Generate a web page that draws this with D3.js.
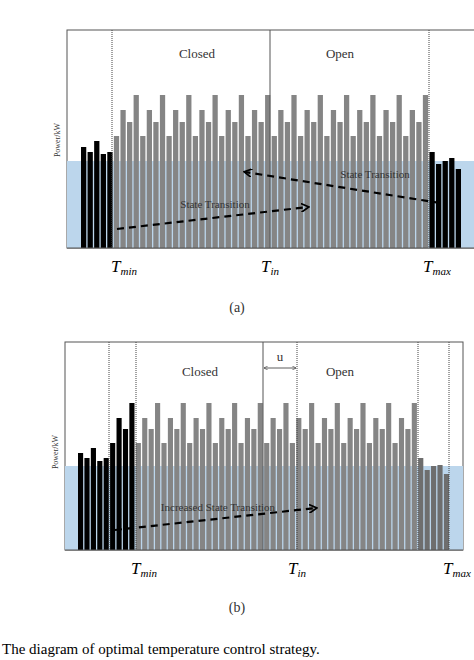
<!DOCTYPE html><html><head><meta charset="utf-8">
<script src="https://cdn.jsdelivr.net/npm/d3@7"></script>
<style>body{margin:0;background:#fff}text{font-family:"Liberation Serif","DejaVu Serif",serif}</style></head><body>
<svg id="c" width="474" height="660"></svg>
<script>
// Panel (a) data
const aLeft=[101,96,107,94,96];
const aPattern=[112,138,126,153];
const aPeriods=12;
const aRight=[96,84,87,90,79];
const aBlue=87;
// Panel (b) data
const bLeft=[97,92,102,89,92,107,132,121,147];
const bPattern=[107,132,121,147];
const bPeriods=11;
const bRight=[92,80,84,85,76];
const bBlue=84;

const svg=d3.select("#c");
const defs=svg.append("defs");
defs.append("marker").attr("id","ahR").attr("viewBox","0 0 10 10").attr("refX",8).attr("refY",5)
 .attr("markerWidth",4).attr("markerHeight",4).attr("orient","auto")
 .append("path").attr("d","M0,0 L9,5 L0,10").attr("fill","none").attr("stroke","#000").attr("stroke-width",2);
defs.append("marker").attr("id","ahS").attr("viewBox","0 0 10 10").attr("refX",9).attr("refY",5)
 .attr("markerWidth",6).attr("markerHeight",6).attr("orient","auto-start-reverse")
 .append("path").attr("d","M0,0 L9,5 L0,10").attr("fill","none").attr("stroke","#333").attr("stroke-width",1.2);

function panel(o){
  const g=svg.append("g");
  const gray=d3.range(o.periods).flatMap(()=>o.pattern);
  const bars=[...o.left.map(v=>({v,c:"#000"})),...gray.map(v=>({v,c:"#858585"})),...o.right.map(v=>({v,c:o.rc}))];
  const x=d3.scaleBand().domain(d3.range(bars.length)).range([o.x0,o.x1]).paddingInner(0.2);
  const y=d3.scaleLinear().domain([0,220]).range([o.base,o.base-220]);
  g.append("rect").attr("x",o.bx0).attr("y",o.top).attr("width",o.bx1-o.bx0).attr("height",o.base-o.top).attr("fill","#fff").attr("stroke","#555");
  g.append("rect").attr("x",o.bx0).attr("y",y(o.blue)).attr("width",o.bx1-o.bx0).attr("height",o.base-y(o.blue)).attr("fill","#bcd6ec");
  g.selectAll(".b").data(bars).join("rect").attr("x",(d,i)=>x(i)).attr("width",x.bandwidth())
   .attr("y",d=>y(d.v)).attr("height",d=>o.base-y(d.v)).attr("fill",d=>d.c);
  o.dotted.forEach(xx=>g.append("line").attr("x1",xx).attr("x2",xx).attr("y1",o.top).attr("y2",o.base).attr("stroke","#444").attr("stroke-dasharray","1,1"));
  o.solid.forEach(xx=>g.append("line").attr("x1",xx).attr("x2",xx).attr("y1",o.top).attr("y2",o.base).attr("stroke","#555"));
  g.append("line").attr("x1",o.bx0).attr("x2",o.bx1).attr("y1",o.base).attr("y2",o.base).attr("stroke","#555");
  g.append("text").attr("transform",`translate(${o.bx0-7},${o.top+110}) rotate(-90)`).attr("text-anchor","middle").attr("font-size",8).attr("fill","#333").text("Power/kW");
  o.texts.forEach(t=>g.append("text").attr("x",t[0]).attr("y",t[1]).attr("text-anchor","middle").attr("font-size",t[3]||13).attr("fill","#333").text(t[2]));
  o.T.forEach(t=>{const tx=g.append("text").attr("x",t[0]).attr("y",t[1]).attr("text-anchor","middle").attr("font-size",17).attr("font-style","italic");
    tx.append("tspan").text("T");tx.append("tspan").attr("font-size",11).attr("dy",3).text(t[2]);});
  o.arrows.forEach(a=>g.append("line").attr("x1",a[0]).attr("y1",a[1]).attr("x2",a[2]).attr("y2",a[3]).attr("stroke","#000").attr("stroke-width",2.2).attr("stroke-dasharray","7,5").attr("marker-end","url(#ahR)"));
  return g;
}
panel({left:aLeft,pattern:aPattern,periods:aPeriods,right:aRight,blue:aBlue,rc:"#000",x0:81,x1:461,bx0:67,bx1:478,top:30,base:248,
 dotted:[112,429],solid:[270],
 texts:[[197,58,"Closed"],[340,58,"Open"],[375,178,"State Transition",11],[215,208,"State Transition",11],[237,312,"(a)",14]],
 T:[[124,272,"min"],[270,272,"in"],[437,272,"max"]],
 arrows:[[440,203,245,172],[117,229,308,207]]});
const gb=panel({left:bLeft,pattern:bPattern,periods:bPeriods,right:bRight,blue:bBlue,rc:"#6e6e6e",x0:78,x1:449,bx0:65,bx1:463,top:342,base:550,
 dotted:[109,136,297,418,449],solid:[263],
 texts:[[200,376,"Closed"],[340,376,"Open"],[280,361,"u",13],[218,511,"Increased State Transition",11],[237,612,"(b)",14]],
 T:[[144,574,"min"],[297,574,"in"],[457,574,"max"]],
 arrows:[[115,530,316,508]]});
gb.append("line").attr("x1",264).attr("x2",296).attr("y1",368).attr("y2",368).attr("stroke","#333").attr("stroke-width",0.8).attr("marker-end","url(#ahS)").attr("marker-start","url(#ahS)");
svg.append("text").attr("x",2).attr("y",654).attr("font-size",15).text("The diagram of optimal temperature control strategy.");
</script></body></html>
